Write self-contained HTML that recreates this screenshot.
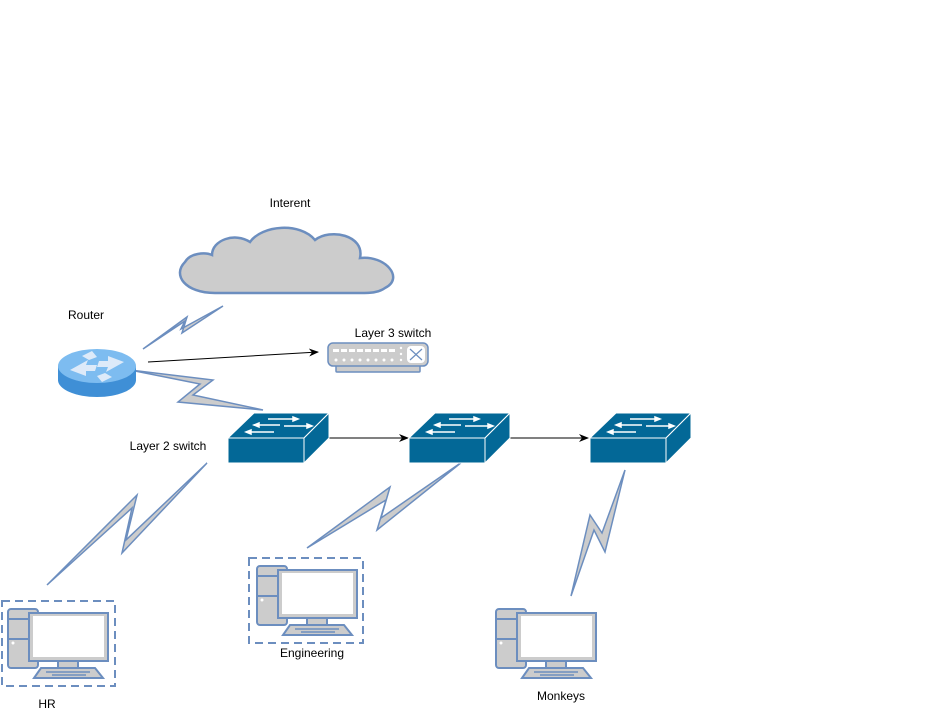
<!DOCTYPE html>
<html><head><style>
body{margin:0;background:#fff;}
svg text{font-family:"Liberation Sans",sans-serif;font-size:12px;fill:#000;}
</style></head><body>
<svg width="948" height="714" viewBox="0 0 948 714" xmlns="http://www.w3.org/2000/svg">
<defs>
<marker id="ar" markerWidth="10" markerHeight="10" refX="9" refY="5" orient="auto" markerUnits="userSpaceOnUse">
<path d="M0,1 L10,5 L0,9 L3,5 Z" fill="#000"/></marker>
<g id="comp" stroke="#6c8ebf" stroke-width="2">
<rect x="0" y="0" width="30" height="59" rx="3" fill="#ccc"/>
<line x1="0" y1="10" x2="30" y2="10"/><line x1="0" y1="30" x2="30" y2="30"/>
<circle cx="5" cy="34" r="1.5" fill="#fff" stroke="none"/>
<rect x="21" y="4" width="79" height="48" fill="#ccc"/>
<rect x="25" y="7" width="71" height="41" fill="#fff" stroke="none"/>
<rect x="50" y="52" width="20" height="7" fill="#ccc"/>
<polygon points="33,59 87,59 95,69 26,69" fill="#ccc"/>
<line x1="38" y1="63" x2="82" y2="63" stroke-width="1.5"/><line x1="44" y1="66" x2="78" y2="66" stroke-width="1.5"/>
</g>
<g id="sw">
<polygon points="0,25 26,0 101,0 76,25" fill="#036897" stroke="#fff" stroke-width="1"/>
<rect x="0" y="25" width="76" height="25" fill="#036897" stroke="#fff" stroke-width="1"/>
<polygon points="76,25 101,0 101,25 76,50" fill="#036897" stroke="#fff" stroke-width="1"/>
<g stroke="#fff" stroke-width="1.5" fill="#fff">
<line x1="40" y1="6" x2="68" y2="6"/><polygon points="70,6 65,4 65,8"/>
<line x1="30" y1="12" x2="52" y2="12"/><polygon points="26,12 31,10 31,14"/>
<line x1="56" y1="13" x2="80" y2="13"/><polygon points="84,13 79,11 79,15"/>
<line x1="22" y1="19" x2="46" y2="19"/><polygon points="18,19 23,17 23,21"/>
</g>
</g>
</defs>

<path d="M215,293 C185,293 172,275 185,262 C190,253 205,252 212,255 C212,240 235,232 250,242 C262,225 300,222 315,240 C330,228 365,235 360,258 C385,255 405,278 385,288 C378,293 370,293 360,293 Z" fill="#ccc" stroke="#6c8ebf" stroke-width="2.5"/>

<g fill="#ccc" stroke="#6c8ebf" stroke-width="1.5" stroke-linejoin="miter">
<polygon points="143,349 187,317 182,333 223,306 181,329 185,321"/>
<polygon points="130,370 213,380 193,395 263,410 178,402 200,384"/>
<polygon points="47,585 137,495 126,540 207,463 122,553 132,508"/>
<polygon points="307,548 390,487 381,518 462,462 377,530 386,500"/>
<polygon points="571,596 590,515 602,533 625,470 605,552 594,530"/>
</g>

<!-- router -->
<path d="M58,366 L58,380 A39,17 0 0 0 136,380 L136,366 Z" fill="#3f8fd6"/>
<ellipse cx="97" cy="366" rx="39" ry="17" fill="#7dbcf0"/>
<g fill="#e8f0fa" opacity="0.9">
<polygon points="70,370 88,360 86,365 97,365 95,371 86,371 86,376"/>
<polygon points="124,362 106,372 108,367 97,367 99,361 108,361 108,356"/>
<polygon points="82,356 92,351 97,357 89,360"/>
<polygon points="112,377 102,382 97,376 105,373"/>
</g>

<rect x="336" y="364" width="84" height="8" rx="1" fill="#ccc" stroke="#6c8ebf" stroke-width="1.5"/>
<rect x="328" y="343" width="100" height="23" rx="5" fill="#ccc" stroke="#6c8ebf" stroke-width="1.5"/>
<g fill="#fff">
<rect x="333" y="349" width="6" height="3"/><rect x="341" y="349" width="6" height="3"/><rect x="349" y="349" width="6" height="3"/><rect x="357" y="349" width="6" height="3"/><rect x="365" y="349" width="6" height="3"/><rect x="373" y="349" width="6" height="3"/><rect x="381" y="349" width="6" height="3"/><rect x="389" y="349" width="6" height="3"/>
<circle cx="336" cy="360" r="1.5"/><circle cx="344" cy="360" r="1.5"/><circle cx="352" cy="360" r="1.5"/><circle cx="360" cy="360" r="1.5"/><circle cx="368" cy="360" r="1.5"/><circle cx="376" cy="360" r="1.5"/><circle cx="384" cy="360" r="1.5"/><circle cx="392" cy="360" r="1.5"/>
<circle cx="401" cy="348" r="1.2"/><circle cx="401" cy="354" r="1.2"/><circle cx="401" cy="360" r="1.2"/>
</g>
<rect x="407" y="346" width="18" height="17" rx="4" fill="#fff"/>
<path d="M410,349 L422,360 M422,349 L410,360" stroke="#6c8ebf" stroke-width="1.2"/>

<line x1="148" y1="362" x2="318" y2="352" stroke="#000" stroke-width="1" marker-end="url(#ar)"/>
<line x1="329" y1="438" x2="408" y2="438" stroke="#000" stroke-width="1" marker-end="url(#ar)"/>
<line x1="510" y1="438" x2="588" y2="438" stroke="#000" stroke-width="1" marker-end="url(#ar)"/>

<use href="#sw" x="228" y="413"/>
<use href="#sw" x="409" y="413"/>
<use href="#sw" x="590" y="413"/>

<rect x="2" y="601" width="113" height="85" fill="none" stroke="#6c8ebf" stroke-width="2" stroke-dasharray="8,5"/>
<use href="#comp" x="8" y="609"/>
<rect x="249" y="558" width="114" height="85" fill="none" stroke="#6c8ebf" stroke-width="2" stroke-dasharray="8,5"/>
<use href="#comp" x="257" y="566"/>
<use href="#comp" x="496" y="609"/>

<text x="290" y="207" text-anchor="middle">Interent</text>
<text x="86" y="319" text-anchor="middle">Router</text>
<text x="393" y="337" text-anchor="middle">Layer 3 switch</text>
<text x="168" y="450" text-anchor="middle">Layer 2 switch</text>
<text x="312" y="657" text-anchor="middle">Engineering</text>
<text x="47" y="708" text-anchor="middle">HR</text>
<text x="561" y="700" text-anchor="middle">Monkeys</text>
</svg>
</body></html>
